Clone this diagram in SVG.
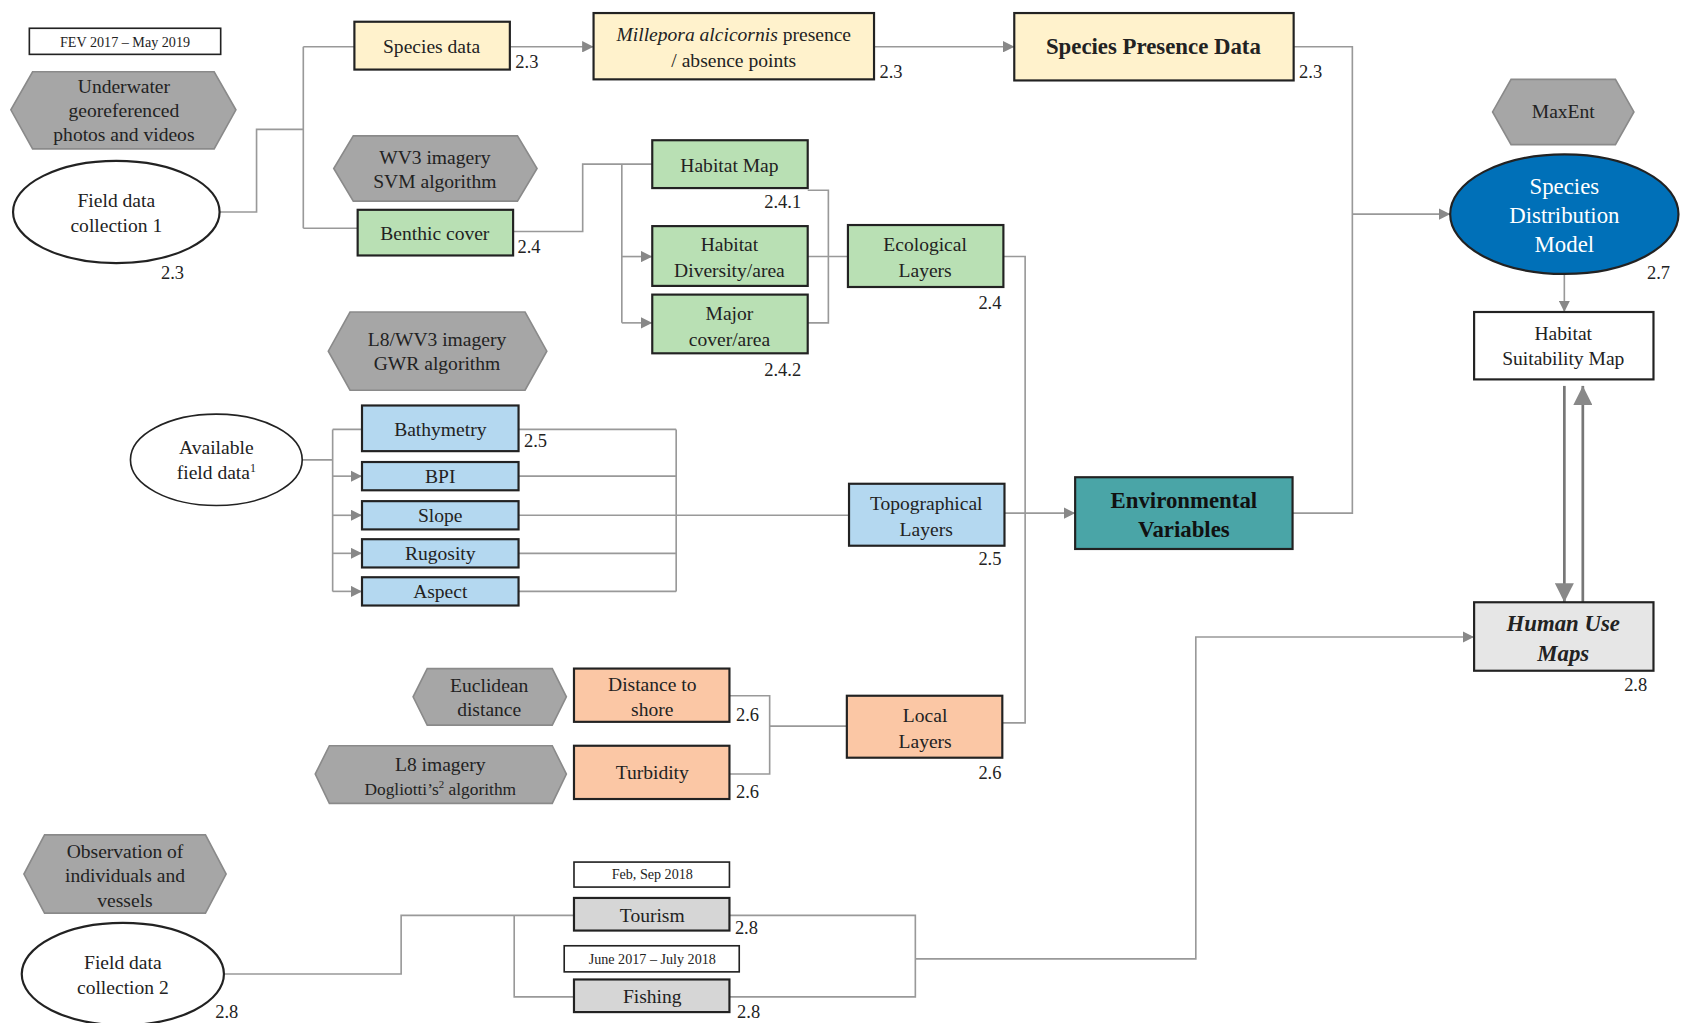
<svg xmlns="http://www.w3.org/2000/svg" width="1685" height="1023" viewBox="0 0 1685 1023">
<style>
text{font-family:"Liberation Serif","Times New Roman",serif;font-size:18px;fill:#222;text-anchor:middle}
.n{text-anchor:start;font-size:17px}
.hex{fill:#a6a6a6;stroke:#8a8a8a;stroke-width:1.5}
.b{stroke:#222;stroke-width:2}
.c{fill:none;stroke:#999;stroke-width:1.5}
.y{fill:#fff2cc}.g{fill:#b9e0b4}.bl{fill:#b4d8f0}.o{fill:#fbc7a5}.gr{fill:#d6d6d6}.w{fill:#fff}
</style>
<defs><marker id="a" viewBox="0 0 10 10" refX="10" refY="5" markerWidth="7" markerHeight="7" orient="auto"><path d="M0,0L10,5L0,10z" fill="#888"/></marker></defs>
<rect width="1685" height="1023" fill="#fff"/>
<g transform="scale(1.0871)">
<g id="connectors" class="c">
<path d="M202,195H236V119H279M279,43V210M279,43H326M279,210H329"/>
<path d="M469,43H546" marker-end="url(#a)"/>
<path d="M804,43H933" marker-end="url(#a)"/>
<path d="M1190,43H1244V472H1189"/>
<path d="M1244,197H1334" marker-end="url(#a)"/>
<path d="M1439,252V287" marker-end="url(#a)"/>
<path d="M1439,355V554" marker-end="url(#a)" style="stroke:#777;stroke-width:2.5"/>
<path d="M1456,554V355" marker-end="url(#a)" style="stroke:#777;stroke-width:2.5"/>
<path d="M472,213H536V151H600M572,151V297"/>
<path d="M572,236H600" marker-end="url(#a)"/>
<path d="M572,297H600" marker-end="url(#a)"/>
<path d="M743,175H762V297H743M743,236H780"/>
<path d="M923,236H943V665H922"/>
<path d="M278,423H306M306,395V544M306,395H333"/>
<path d="M306,438H333" marker-end="url(#a)"/>
<path d="M306,474H333" marker-end="url(#a)"/>
<path d="M306,509H333" marker-end="url(#a)"/>
<path d="M306,544H333" marker-end="url(#a)"/>
<path d="M477,395H622M477,438H622M477,474H622M477,509H622M477,544H622M622,395V544M622,474H781"/>
<path d="M924,472H989" marker-end="url(#a)"/>
<path d="M671,640H708V712H671M708,668H779"/>
<path d="M207,896H369V842H528M473,842V917H528"/>
<path d="M671,842H842V917H671M842,882H1100V586H1356" marker-end="url(#a)"/>
</g>
<g id="fev"><rect class="b w" x="27" y="26" width="176" height="24" style="stroke-width:1.5"/><text x="115" y="43" style="font-size:13px">FEV 2017 – May 2019</text></g>
<g id="underwater"><polygon class="hex" points="30,66 197,66 217,101 197,137 30,137 10,101"/><text x="114" y="86">Underwater</text><text x="114" y="108">georeferenced</text><text x="114" y="130">photos and videos</text></g>
<g id="field1"><ellipse class="b w" cx="107" cy="195" rx="95" ry="47"/><text x="107" y="190">Field data</text><text x="107" y="213">collection 1</text><text class="n" x="148" y="257">2.3</text></g>
<g id="speciesdata"><rect class="b y" x="326" y="20" width="143" height="44"/><text x="397" y="49">Species data</text><text class="n" x="474" y="63">2.3</text></g>
<g id="millepora"><rect class="b y" x="546" y="12" width="258" height="61"/><text x="675" y="38"><tspan font-style="italic">Millepora alcicornis</tspan> presence</text><text x="675" y="62">/ absence points</text><text class="n" x="809" y="72">2.3</text></g>
<g id="presence"><rect class="b y" x="933" y="12" width="257" height="62"/><text x="1061" y="50" style="font-weight:bold;font-size:21px">Species Presence Data</text><text class="n" x="1195" y="72">2.3</text></g>
<g id="maxent"><polygon class="hex" points="1390,73 1486,73 1503,103 1486,133 1390,133 1373,103"/><text x="1438" y="109">MaxEnt</text></g>
<g id="sdm"><ellipse cx="1439" cy="197" rx="105" ry="55" fill="#0070b8" stroke="#222" stroke-width="2"/><text x="1439" y="178" style="fill:#fff;font-size:21px">Species</text><text x="1439" y="205" style="fill:#fff;font-size:21px">Distribution</text><text x="1439" y="232" style="fill:#fff;font-size:21px">Model</text><text class="n" x="1515" y="257">2.7</text></g>
<g id="hsm"><rect class="b w" x="1356" y="287" width="165" height="62"/><text x="1438" y="313">Habitat</text><text x="1438" y="336">Suitability Map</text></g>
<g id="human"><rect class="b" x="1356" y="554" width="165" height="63" fill="#e6e6e6"/><text x="1438" y="580" style="font-weight:bold;font-style:italic;font-size:21px">Human Use</text><text x="1438" y="608" style="font-weight:bold;font-style:italic;font-size:21px">Maps</text><text class="n" x="1494" y="636">2.8</text></g>
<g id="wv3"><polygon class="hex" points="325,125 476,125 494,155 476,185 325,185 307,155"/><text x="400" y="151">WV3 imagery</text><text x="400" y="173">SVM algorithm</text></g>
<g id="benthic"><rect class="b g" x="329" y="193" width="143" height="42"/><text x="400" y="221">Benthic cover</text><text class="n" x="476" y="233">2.4</text></g>
<g id="habmap"><rect class="b g" x="600" y="129" width="143" height="44"/><text x="671" y="158">Habitat Map</text><text class="n" x="703" y="191">2.4.1</text></g>
<g id="habdiv"><rect class="b g" x="600" y="208" width="143" height="55"/><text x="671" y="231">Habitat</text><text x="671" y="255">Diversity/area</text></g>
<g id="major"><rect class="b g" x="600" y="271" width="143" height="54"/><text x="671" y="294">Major</text><text x="671" y="318">cover/area</text><text class="n" x="703" y="346">2.4.2</text></g>
<g id="eco"><rect class="b g" x="780" y="207" width="143" height="57"/><text x="851" y="231">Ecological</text><text x="851" y="255">Layers</text><text class="n" x="900" y="284">2.4</text></g>
<g id="l8wv3"><polygon class="hex" points="322,287 483,287 503,323 483,359 322,359 302,323"/><text x="402" y="318">L8/WV3 imagery</text><text x="402" y="340">GWR algorithm</text></g>
<g id="avail"><ellipse class="b w" cx="199" cy="423" rx="79" ry="42" style="stroke-width:1.5"/><text x="199" y="418">Available</text><text x="199" y="441">field data<tspan font-size="11" dy="-7">1</tspan></text></g>
<g id="bathy"><rect class="b bl" x="333" y="373" width="144" height="42"/><text x="405" y="401">Bathymetry</text><text class="n" x="482" y="411">2.5</text></g>
<g id="bpi"><rect class="b bl" x="333" y="425" width="144" height="26"/><text x="405" y="444">BPI</text></g>
<g id="slope"><rect class="b bl" x="333" y="461" width="144" height="26"/><text x="405" y="480">Slope</text></g>
<g id="rug"><rect class="b bl" x="333" y="496" width="144" height="26"/><text x="405" y="515">Rugosity</text></g>
<g id="aspect"><rect class="b bl" x="333" y="531" width="144" height="26"/><text x="405" y="550">Aspect</text></g>
<g id="topo"><rect class="b bl" x="781" y="445" width="143" height="57"/><text x="852" y="469">Topographical</text><text x="852" y="493">Layers</text><text class="n" x="900" y="520">2.5</text></g>
<g id="env"><rect class="b" x="989" y="439" width="200" height="66" fill="#4aa5a7"/><text x="1089" y="467" style="font-weight:bold;font-size:21px;fill:#111">Environmental</text><text x="1089" y="494" style="font-weight:bold;font-size:21px;fill:#111">Variables</text></g>
<g id="eucl"><polygon class="hex" points="393,615 508,615 521,641 508,667 393,667 380,641"/><text x="450" y="637">Euclidean</text><text x="450" y="659">distance</text></g>
<g id="dist"><rect class="b o" x="528" y="615" width="143" height="49"/><text x="600" y="636">Distance to</text><text x="600" y="659">shore</text><text class="n" x="677" y="663">2.6</text></g>
<g id="l8"><polygon class="hex" points="303,686 508,686 521,712 508,739 303,739 290,712"/><text x="405" y="709">L8 imagery</text><text x="405" y="731" style="font-size:16px">Dogliotti’s<tspan font-size="10" dy="-6">2</tspan><tspan dy="6"> algorithm</tspan></text></g>
<g id="turb"><rect class="b o" x="528" y="686" width="143" height="49"/><text x="600" y="717">Turbidity</text><text class="n" x="677" y="734">2.6</text></g>
<g id="local"><rect class="b o" x="779" y="640" width="143" height="57"/><text x="851" y="664">Local</text><text x="851" y="688">Layers</text><text class="n" x="900" y="717">2.6</text></g>
<g id="obs"><polygon class="hex" points="41,768 189,768 208,804 189,840 41,840 22,804"/><text x="115" y="789">Observation of</text><text x="115" y="811">individuals and</text><text x="115" y="834">vessels</text></g>
<g id="field2"><ellipse class="b w" cx="113" cy="896" rx="93" ry="47"/><text x="113" y="891">Field data</text><text x="113" y="914">collection 2</text><text class="n" x="198" y="936">2.8</text></g>
<g id="feb"><rect class="b w" x="528" y="793" width="143" height="23" style="stroke-width:1.5"/><text x="600" y="809" style="font-size:13px">Feb, Sep 2018</text></g>
<g id="tourism"><rect class="b gr" x="528" y="826" width="143" height="30"/><text x="600" y="848">Tourism</text><text class="n" x="676" y="859">2.8</text></g>
<g id="june"><rect class="b w" x="519" y="870" width="161" height="24" style="stroke-width:1.5"/><text x="600" y="887" style="font-size:13px">June 2017 – July 2018</text></g>
<g id="fishing"><rect class="b gr" x="528" y="901" width="143" height="30"/><text x="600" y="923">Fishing</text><text class="n" x="678" y="936">2.8</text></g>
</g>
</svg>
